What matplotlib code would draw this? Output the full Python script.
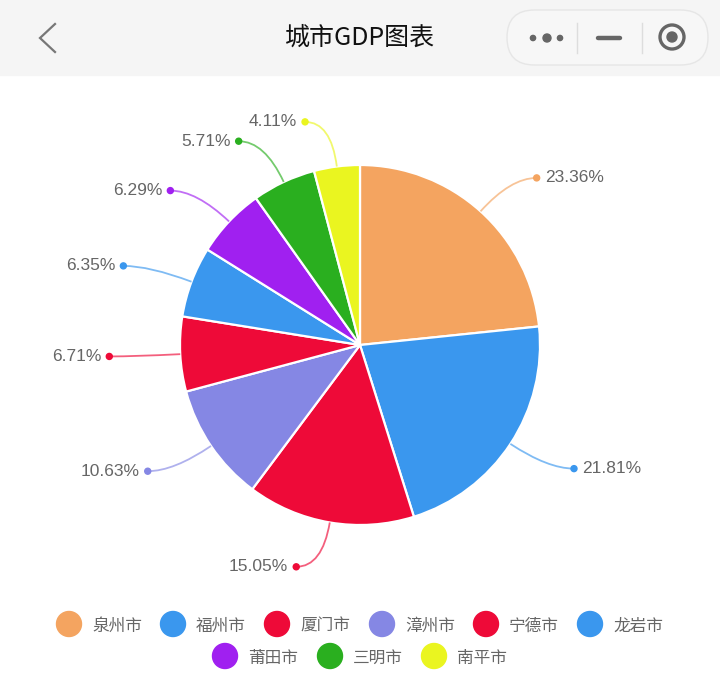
import numpy as np
import matplotlib
matplotlib.use("Agg")
import matplotlib.pyplot as plt
from matplotlib.patches import Circle, FancyBboxPatch, Rectangle, PathPatch
from matplotlib.path import Path

plt.rcParams['font.family'] = ['Noto Sans CJK SC', 'DejaVu Sans']

# 数据
cities = ['泉州市', '福州市', '厦门市', '漳州市', '宁德市', '龙岩市', '莆田市', '三明市', '南平市']
shares = [23.36, 21.81, 15.05, 10.63, 6.71, 6.35, 6.29, 5.71, 4.11]
colors = ['#F4A460', '#3A97EE', '#EE0A38', '#8587E4', '#EE0A38', '#3A97EE',
          '#A020F0', '#2AAF1F', '#EAF520']
title = '城市GDP图表'

W, H = 720, 688
fig = plt.figure(figsize=(W / 100, H / 100), dpi=100)
ax = fig.add_axes([0, 0, 1, 1])


def Y(p):
    # pixel row (top-down) -> data y (bottom-up)
    return H - p


# --- barra superiore (stile mini-programma) ---
ax.add_patch(Rectangle((0, Y(75)), W, 75, color='#F5F5F5', zorder=0))
ax.plot([55, 40, 55], [Y(24), Y(38), Y(52)], color='#777777', lw=1.6,
        solid_joinstyle='miter', zorder=2)
ax.text(360, Y(38), title, ha='center', va='center', fontsize=18,
        color='#111111', zorder=2)
ax.add_patch(FancyBboxPatch((507, Y(65)), 201, 55,
                            boxstyle='round,pad=0,rounding_size=27.5',
                            fc='#F7F7F7', ec='#E6E6E6', lw=1, zorder=1))
for cx, r in [(533, 2.6), (547, 4.0), (560, 2.6)]:
    ax.add_patch(Circle((cx, Y(38)), r, color='#666666', zorder=2))
ax.plot([577, 577], [Y(23), Y(53)], color='#DDDDDD', lw=1, zorder=2)
ax.plot([598, 620], [Y(38), Y(38)], color='#666666', lw=3.2,
        solid_capstyle='round', zorder=2)
ax.plot([642, 642], [Y(23), Y(53)], color='#DDDDDD', lw=1, zorder=2)
ax.add_patch(Circle((672, Y(37)), 12, fill=False, ec='#666666', lw=2.4, zorder=2))
ax.add_patch(Circle((672, Y(37)), 5, color='#666666', zorder=2))

# --- torta ---
center = (360, Y(345))
R = 180
wedges, _ = ax.pie(shares, colors=colors, startangle=90, counterclock=False,
                   radius=R, center=center, frame=True,
                   wedgeprops=dict(edgecolor='white', linewidth=1.6))

for w, s, c in zip(wedges, shares, colors):
    ang = np.deg2rad((w.theta1 + w.theta2) / 2)
    ca, sa = np.cos(ang), np.sin(ang)
    p0 = (center[0] + R * ca, center[1] + R * sa)
    p1 = (center[0] + (R + 45) * ca, center[1] + (R + 45) * sa)
    side = 1 if ca >= 0 else -1
    p2 = (p1[0] + side * 26, p1[1])
    path = Path([p0, p1, p2], [Path.MOVETO, Path.CURVE3, Path.CURVE3])
    ax.add_patch(PathPatch(path, fc='none', ec=c, lw=1.3, alpha=0.65, zorder=3))
    ax.add_patch(Circle(p2, 3, color=c, zorder=4))
    ax.text(p2[0] + side * 8, p2[1], f'{s:.2f}%', ha='left' if side > 0 else 'right',
            va='center', fontsize=12.5, color='#666666',
            family=['Liberation Sans', 'DejaVu Sans'], zorder=4)

# --- legenda ---
row1_x = [69, 173, 277, 382, 486, 590]
row2_x = [225, 330, 434]
pos = [(x, 624) for x in row1_x] + [(x, 656) for x in row2_x]
for (lx, ly), name, c in zip(pos, cities, colors):
    ax.add_patch(Circle((lx, Y(ly)), 12.5, color=c, zorder=3))
    ax.text(lx + 23, Y(ly + 2), name, ha='left', va='center', fontsize=12,
            color='#666666', zorder=3)

ax.set_xlim(0, W)
ax.set_ylim(0, H)
ax.set_aspect('equal')
ax.axis('off')

fig.savefig('out.png', dpi=100, facecolor='white')
